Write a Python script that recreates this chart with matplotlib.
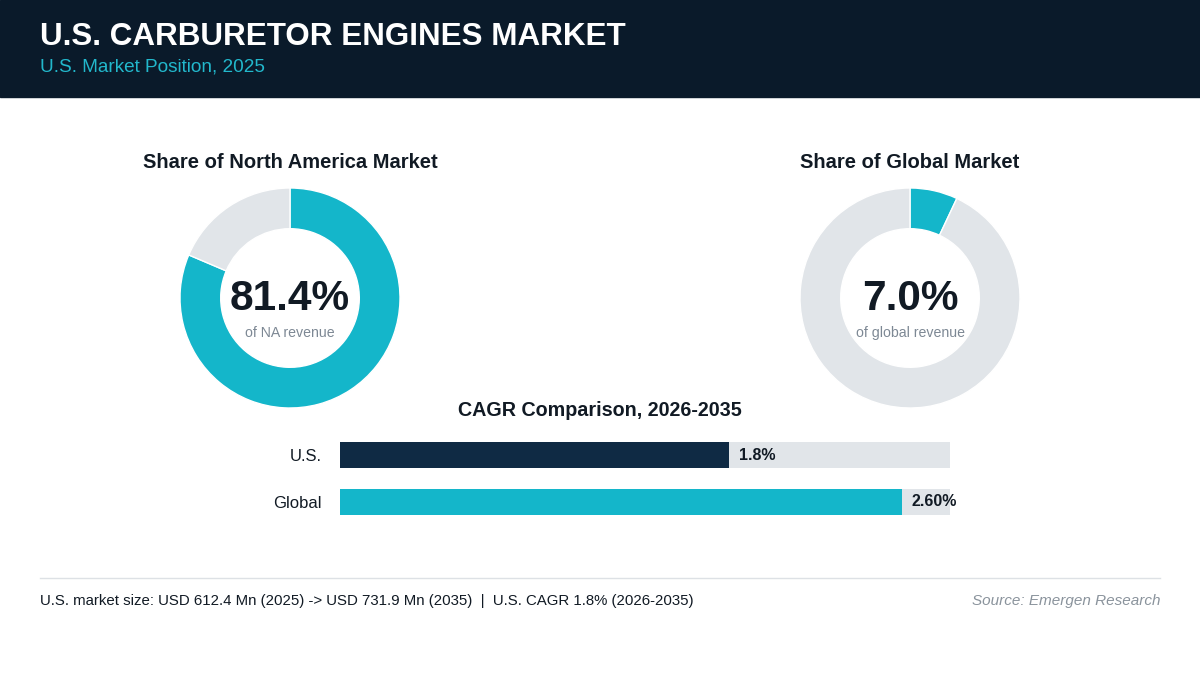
import matplotlib.pyplot as plt

plt.rcParams['font.family'] = ['Liberation Sans', 'DejaVu Sans']

# data
title = 'U.S. CARBURETOR ENGINES MARKET'
subtitle = 'U.S. Market Position, 2025'
donut_titles = ['Share of North America Market', 'Share of Global Market']
donut_shares = [81.4, 7.0]
donut_labels = ['81.4%', '7.0%']
donut_subs = ['of NA revenue', 'of global revenue']
cagr_names = ['U.S.', 'Global']
cagr_values = [1.8, 2.6]
cagr_labels = ['1.8%', '2.60%']
footer = 'U.S. market size: USD 612.4 Mn (2025) -> USD 731.9 Mn (2035)  |  U.S. CAGR 1.8% (2026-2035)'
source = 'Source: Emergen Research'

HEADER = '#0a1a2a'
TEAL = '#14b6ca'
GRAY = '#e1e5e9'
NAVY = '#0f2a44'
DARK = '#111a24'

W, H = 1200, 675
fig = plt.figure(figsize=(12, 6.75), dpi=100)
fig.patch.set_facecolor('white')


def fx(px):
    return px / W


def fy(py):
    return 1 - py / H


# header band
fig.patches.append(plt.Rectangle((0, fy(97)), 1, 97 / H, transform=fig.transFigure,
                                 color=HEADER, zorder=0))
fig.text(fx(40), fy(37), title, color='white', fontsize=22.6, fontweight='bold',
         va='center', ha='left')
fig.text(fx(40), fy(67), subtitle, color='#22b8cc', fontsize=13.7, va='center', ha='left')

# donuts
centers = [290, 910]
R = 110
for cx, t, share, lab, sub in zip(centers, donut_titles, donut_shares, donut_labels, donut_subs):
    ax = fig.add_axes([fx(cx - R), fy(298 + R), 2 * R / W, 2 * R / H])
    ax.pie([share, 100 - share], colors=[TEAL, GRAY], startangle=90, counterclock=False,
           radius=1, wedgeprops=dict(width=0.37, edgecolor='white', linewidth=1))
    ax.set_xlim(-1, 1)
    ax.set_ylim(-1, 1)
    ax.set_aspect('equal')
    ax.axis('off')
    fig.text(fx(cx), fy(163), t, ha='center', va='center', fontsize=14.5,
             fontweight='bold', color=DARK)
    fig.text(fx(cx), fy(299), lab, ha='center', va='center', fontsize=30.5,
             fontweight='bold', color=DARK)
    fig.text(fx(cx), fy(333), sub, ha='center', va='center', fontsize=10.2, color='#7d8894')

# CAGR bars
fig.text(fx(600), fy(411), 'CAGR Comparison, 2026-2035', ha='center', va='center',
         fontsize=14.2, fontweight='bold', color=DARK)
xmax = max(cagr_values) * 1.085
bax = fig.add_axes([fx(340), fy(525.5), 610 / W, 94 / H])
ypos = range(len(cagr_names))
bax.barh(ypos, [xmax] * len(cagr_names), height=0.565, color=GRAY)
bax.barh(ypos, cagr_values, height=0.565, color=[NAVY, TEAL])
for y, v, lab in zip(ypos, cagr_values, cagr_labels):
    bax.text(v + xmax * 0.016, y, lab, va='center', ha='left', fontsize=11.5,
             fontweight='bold', color=DARK)
bax.set_xlim(0, xmax)
bax.set_ylim(1.5, -0.5)
bax.set_yticks(list(ypos))
bax.set_yticklabels(cagr_names, fontsize=12, color=DARK)
bax.tick_params(axis='y', length=0, pad=13)
bax.set_xticks([])
for s in bax.spines.values():
    s.set_visible(False)

# footer
fig.add_artist(plt.Line2D([fx(40), fx(1160)], [fy(578), fy(578)], transform=fig.transFigure,
                          color='#dde1e5', linewidth=1))
fig.text(fx(40), fy(601), footer, ha='left', va='center', fontsize=10.8, color=DARK)
fig.text(fx(1160), fy(601), source, ha='right', va='center', fontsize=11,
         style='italic', color='#8a939c')

fig.savefig('out.png', dpi=100)
